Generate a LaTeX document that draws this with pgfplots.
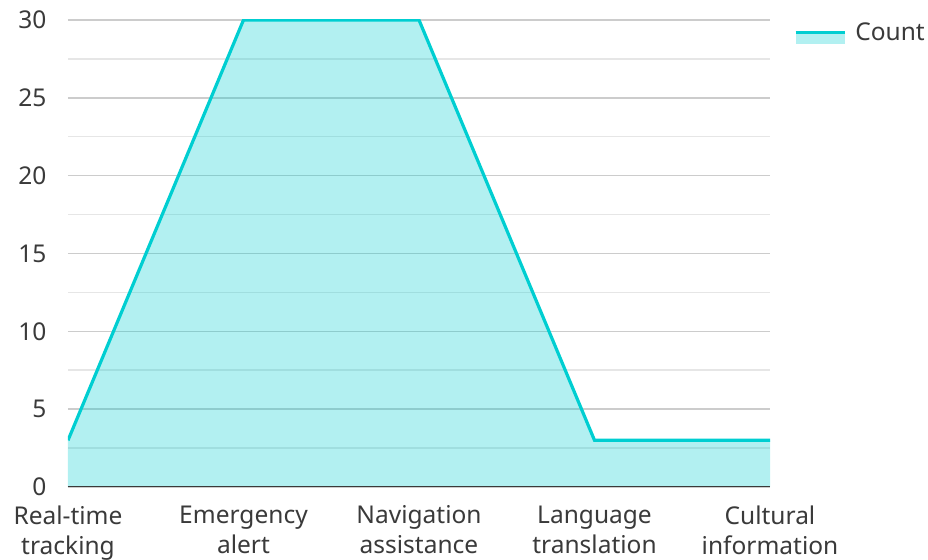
\documentclass[border=0pt]{standalone}
\usepackage{pgfplots}
\pgfplotsset{compat=1.18}
\usetikzlibrary{calc}
\usepackage{fontspec}
\setmainfont{Noto Sans}
\definecolor{lc}{HTML}{00CED1}
\definecolor{tc}{HTML}{3A3A3A}
\definecolor{gmaj}{HTML}{CCCCCC}
\definecolor{gmin}{HTML}{E6E6E6}
\begin{document}
\begin{tikzpicture}
\begin{axis}[
  scale only axis, width=702pt, height=467pt,
  xmin=0, xmax=4, ymin=0, ymax=30,
  xtick={0,1,2,3,4},
  xticklabels={{Real-time\\tracking},{Emergency\\alert},{Navigation\\assistance},{Language\\translation},{Cultural\\information}},
  ytick={0,5,...,30}, minor ytick={2.5,7.5,...,27.5},
  ymajorgrids, yminorgrids,
  major grid style={draw=gmaj, line width=1.5pt},
  minor grid style={draw=gmin, line width=1.5pt},
  axis line style={draw=none},
  major tick length=0pt, minor tick length=0pt,
  tick style={draw=none},
  /pgf/number format/assume math mode=true,
  tick label style={font=\fontsize{24.5}{30}\selectfont, text=tc},
  xticklabel style={align=center, anchor=north, yshift=-15pt},
  yticklabel style={anchor=east, xshift=-18pt},
  legend style={at={(rel axis cs:1,1)}, anchor=north west, xshift=21pt, yshift=1pt,
    draw=none, fill=none, font=\fontsize{24.5}{28}\selectfont, text=tc,
    legend cell align=left},
]
\addplot[draw=none, fill=lc, fill opacity=0.3, forget plot] coordinates {
  (0,3) (1,30) (2,30) (3,3) (4,3)
} \closedcycle;
\addplot[draw=lc, line width=3.2pt, no marks,
  legend image code/.code={
    \path[draw=none, fill=lc, fill opacity=0.3] (0pt,-11pt) rectangle (49pt,-1pt);
    \path[draw=lc, line width=3pt] (0pt,0pt) -- (49pt,0pt);
    \path (56pt,0pt);
  }] coordinates {
  (0,3) (1,30) (2,30) (3,3) (4,3)
};
\addlegendentry{Count}
\draw[tc, line width=2pt] (rel axis cs:0,0) -- (rel axis cs:1,0);
\coordinate (sw) at (rel axis cs:0,0);
\coordinate (ne) at (rel axis cs:1,1);
\end{axis}
\pgfresetboundingbox
\path[use as bounding box] ($(sw)+(-68pt,-73pt)$) rectangle ($(ne)+(158pt,20pt)$);
\end{tikzpicture}
\end{document}
